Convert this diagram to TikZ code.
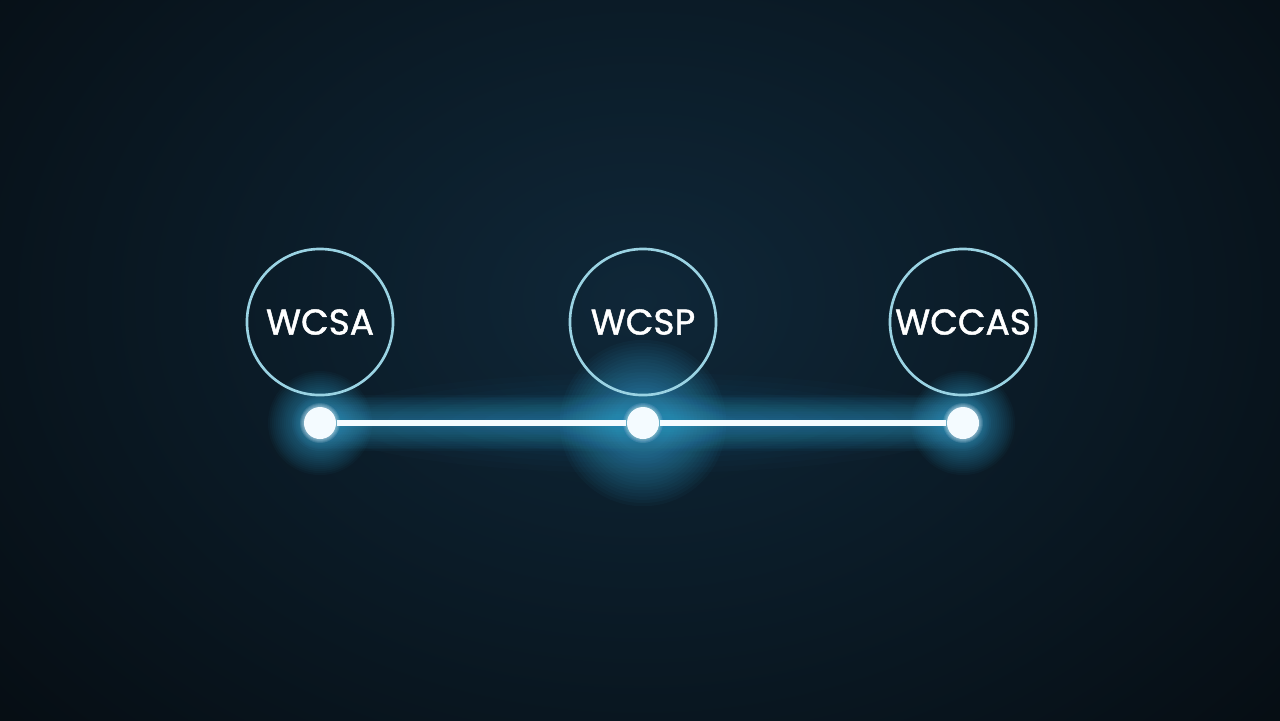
\documentclass[tikz,border=0pt]{standalone}
\usepackage{fontspec}
\newfontfamily\pop[FakeBold=1.3]{Poppins}
\definecolor{bgin}{HTML}{0F2738}
\definecolor{bgout}{HTML}{050B10}
\definecolor{ringc}{HTML}{9AD3E3}
\definecolor{glowc}{HTML}{3FB6E8}
\definecolor{corec}{HTML}{F4FBFF}
\begin{document}
\begin{tikzpicture}[x=0.01cm,y=-0.01cm,
  ring/.style={circle,draw=ringc,line width=0.75pt,inner sep=0pt,minimum size=1.46cm,text=white,font=\pop\fontsize{10.2}{12}\selectfont},
  dot/.style={circle,fill=corec,inner sep=0pt,minimum size=0.32cm}]
\useasboundingbox (0,0) rectangle (1280,720);
\fill[inner color=bgin,outer color=bgout] (-300,-400) rectangle (1580,1000);
% line glow
\foreach \w in {2,3,...,16} {
  \draw[glowc,line width=\w pt,opacity=0.035,line cap=round] (320,423) -- (963,423);
}
% dot glows
\foreach \cx/\s in {320/1,643/1.6,963/1} {
  \foreach \r in {18,20,...,52} {
    \fill[glowc,opacity=0.035] (\cx,423) circle[radius=\s*\r];
  }
  \foreach \r in {17,18,19,20} {
    \fill[corec,opacity=0.12] (\cx,423) circle[radius=\r];
  }
}
\foreach \r in {40,60,...,200} {
  \fill[glowc,opacity=0.02] (643,423) ellipse[x radius=1.6*\r,y radius=0.25*\r];
}
\node[ring] (a) at (320,322) {WCSA};
\node[ring] (b) at (643,322) {WCSP};
\node[ring] (c) at (963,322) {WCCAS};
\node[dot] (da) at (320,423) {};
\node[dot] (db) at (643,423) {};
\node[dot] (dc) at (963,423) {};
\draw[corec,line width=1.5pt] (da) -- (db);
\draw[corec,line width=1.5pt] (db) -- (dc);
\end{tikzpicture}
\end{document}
